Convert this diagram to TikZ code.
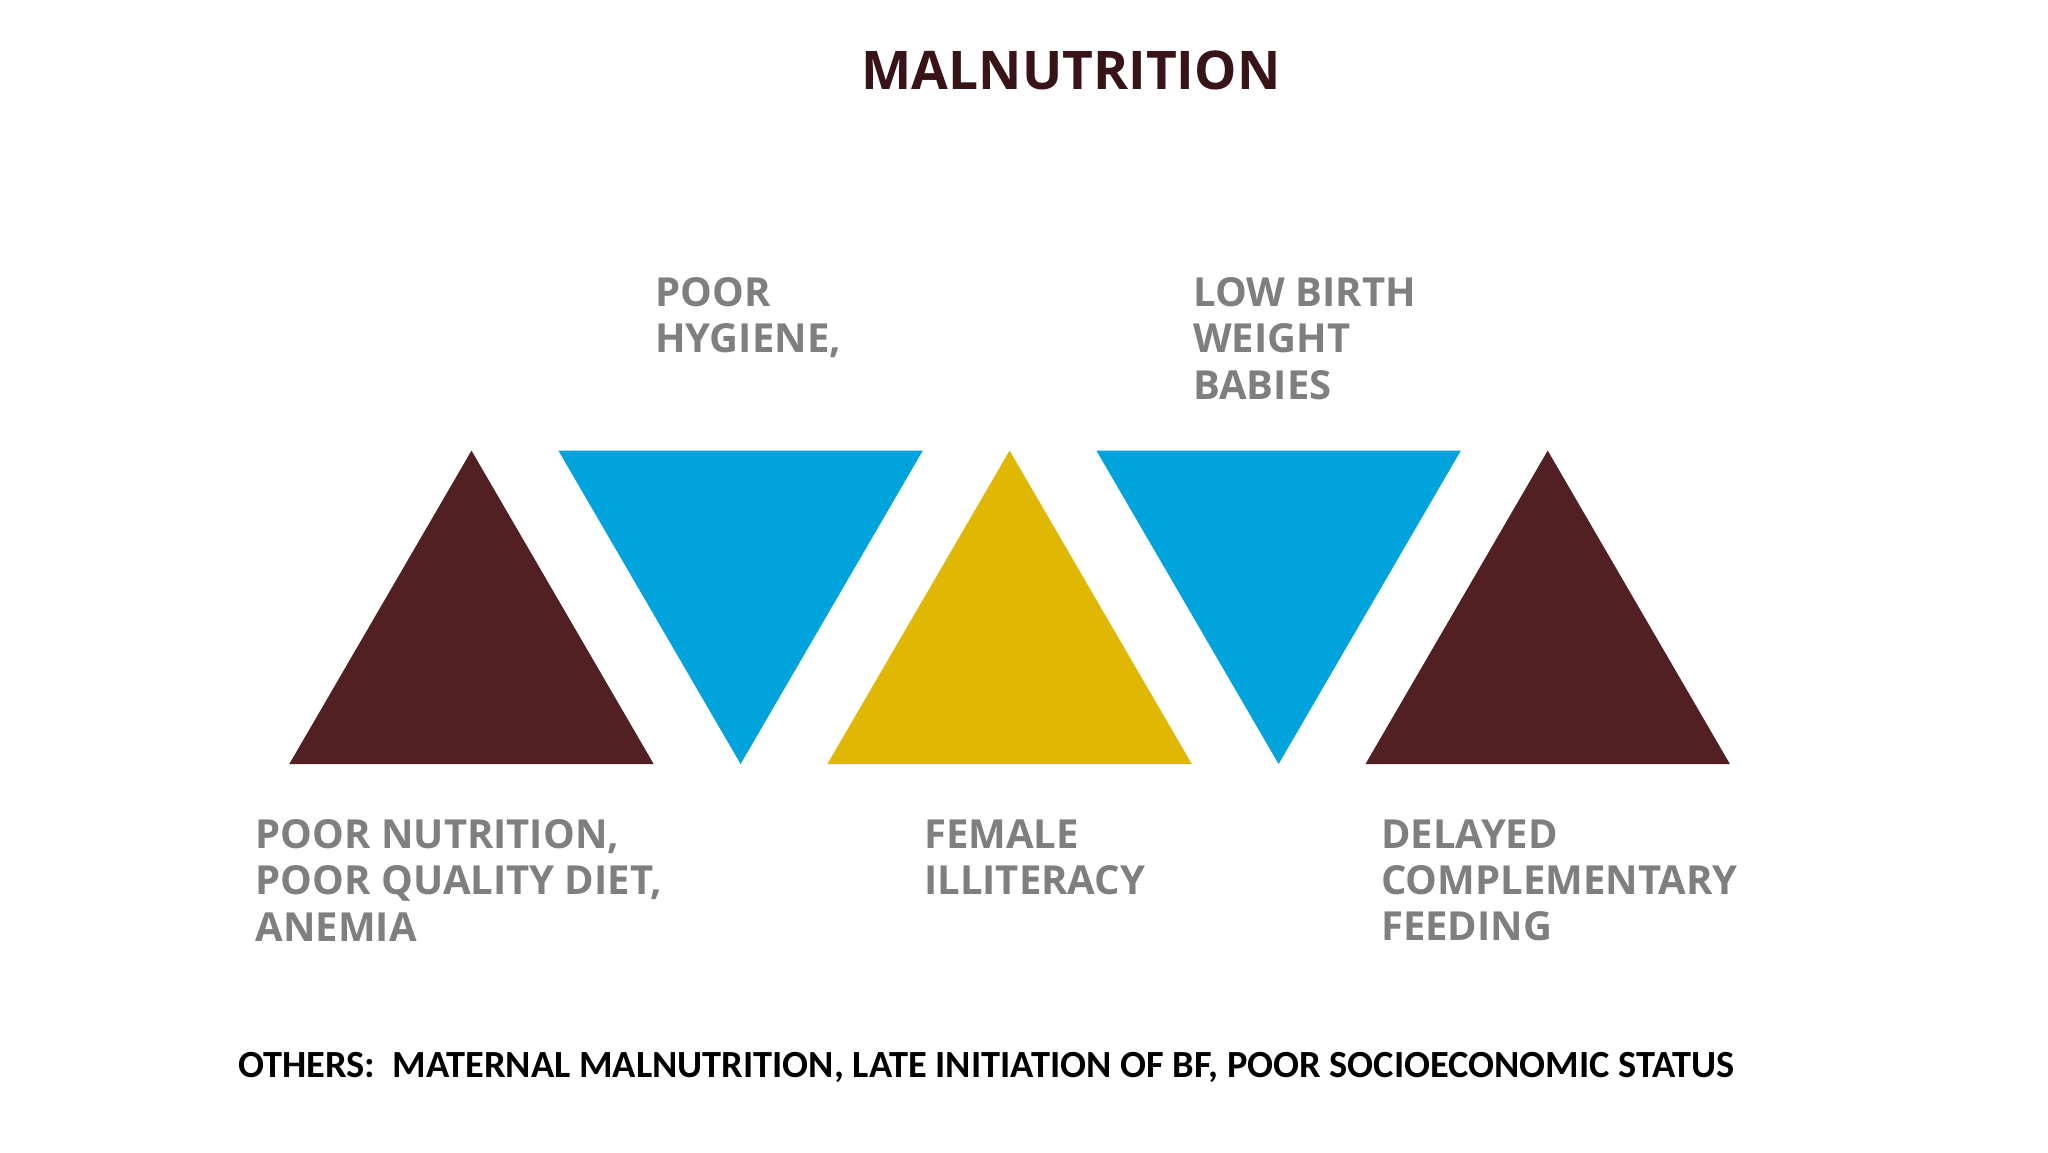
\documentclass[tikz,border=0pt]{standalone}
\usepackage{fontspec}
\setmainfont{Open Sans}
\newfontfamily\calfont{Carlito}
\definecolor{tribrown}{RGB}{82,32,34}
\definecolor{triblue}{RGB}{0,163,220}
\definecolor{triyellow}{RGB}{224,184,4}
\definecolor{labgray}{RGB}{127,127,127}
\definecolor{titlebrown}{RGB}{56,20,24}
\tikzset{
  lab/.style={anchor=north west, inner sep=0pt, align=left, text=labgray,
    font={\fontsize{40}{46.2}\selectfont\bfseries}},
}
\begin{document}
\begin{tikzpicture}[x=1pt,y=-1pt]
\useasboundingbox (0,0) rectangle (2048,1152);
\fill[white] (0,0) rectangle (2048,1152);
% triangles
\def\ty{450.6}\def\by{764}\def\hw{182.2}
\fill[tribrown] (471.5,\ty) -- (471.5-\hw,\by) -- (471.5+\hw,\by) -- cycle;
\fill[triblue] (740.6-\hw,\ty) -- (740.6+\hw,\ty) -- (740.6,\by) -- cycle;
\fill[triyellow] (1009.6,\ty) -- (1009.6-\hw,\by) -- (1009.6+\hw,\by) -- cycle;
\fill[triblue] (1278.6-\hw,\ty) -- (1278.6+\hw,\ty) -- (1278.6,\by) -- cycle;
\fill[tribrown] (1547.7,\ty) -- (1547.7-\hw,\by) -- (1547.7+\hw,\by) -- cycle;
% title
\node[anchor=north, inner sep=0pt, text=titlebrown, font={\fontsize{53.3}{60}\selectfont\bfseries}] (title) at (1071,51) {MALNUTRITION};
% labels
\node[lab] (hyg) at (655,277.5) {POOR\\HYGIENE,};
\node[lab] (lbw) at (1193,277.5) {LOW BIRTH\\WEIGHT\\BABIES};
\node[lab] (nut) at (255.5,819.5) {POOR NUTRITION,\\POOR QUALITY DIET,\\ANEMIA};
\node[lab] (fem) at (924,819.5) {FEMALE\\ILLITERACY};
\node[lab] (del) at (1381,819.5) {DELAYED\\COMPLEMENTARY\\FEEDING};
% others
\node[anchor=north west, inner sep=0pt, text=black, font={\calfont\fontsize{38.4}{44}\selectfont\bfseries}] (oth) at (238,1051.7) {OTHERS:\ \ MATERNAL MALNUTRITION, LATE INITIATION OF BF, POOR SOCIOECONOMIC STATUS};
\end{tikzpicture}
\end{document}
